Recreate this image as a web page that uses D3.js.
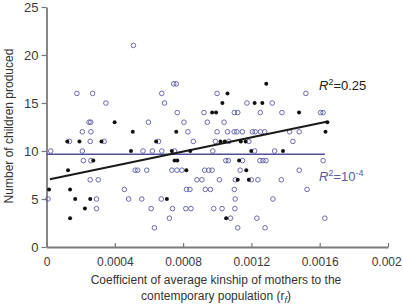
<!DOCTYPE html>
<html>
<head>
  <meta charset="UTF-8" />
  <script src="https://d3js.org/d3.v7.min.js"></script>
  <style>
    body { margin: 0; padding: 0; background: #fff; }
    svg { font-family: "Liberation Sans", Arial, sans-serif; }
  </style>
</head>
<body>
  <div id="chart"></div>
  <script>
    // values: [kinship coefficient, number of children]
    const openPoints = [
      [0.000509, 21],
      [0.000745, 17], [0.00076, 17],
      [0.000178, 16], [0.00027, 16], [0.000675, 16], [0.000999, 16], [0.001519, 16],
      [0.000348, 15], [0.000691, 15], [0.001174, 15], [0.001322, 15],
      [0.000766, 14], [0.000922, 14], [0.0011, 14], [0.00112, 14], [0.001252, 14], [0.001379, 14], [0.001605, 14], [0.00162, 14],
      [0.000249, 13], [0.000259, 13], [0.000597, 13], [0.000805, 13], [0.000942, 13], [0.00104, 13],
      [0.00021, 12], [0.00026, 12], [0.000828, 12], [0.000999, 12], [0.00106, 12], [0.001099, 12], [0.001115, 12], [0.001147, 12],
      [0.001206, 12], [0.001222, 12], [0.001253, 12], [0.001278, 12], [0.001424, 12], [0.00148, 12],
      [0.000134, 11], [0.000256, 11], [0.000338, 11], [0.000656, 11], [0.00086, 11], [0.000989, 11], [0.001068, 11], [0.001185, 11], [0.001443, 11],
      [0.000025, 10], [0.00021, 10], [0.000565, 10], [0.00062, 10], [0.000675, 10], [0.00075, 10], [0.000974, 10], [0.001219, 10], [0.001336, 10],
      [0.000216, 9], [0.00026, 9], [0.00105, 9], [0.001065, 9], [0.001148, 9], [0.00125, 9], [0.001268, 9], [0.001285, 9], [0.00162, 9],
      [0.000519, 8], [0.000534, 8], [0.000587, 8], [0.000734, 8], [0.000764, 8], [0.000793, 8], [0.000926, 8], [0.00095, 8], [0.00097, 8], [0.001134, 8], [0.00148, 8],
      [0.000256, 7], [0.000303, 7], [0.000881, 7], [0.00091, 7], [0.001013, 7], [0.001106, 7], [0.001199, 7], [0.001238, 7], [0.001375, 7],
      [0.000456, 6], [0.00082, 6], [0.00084, 6], [0.00093, 6], [0.00096, 6], [0.0011, 6], [0.001526, 6],
      [0.000009, 5], [0.000293, 5], [0.000481, 5], [0.000558, 5], [0.000672, 5], [0.001105, 5], [0.001326, 5],
      [0.000293, 4], [0.000613, 4], [0.000738, 4], [0.000816, 4], [0.000846, 4], [0.000979, 4], [0.001028, 4], [0.001103, 4],
      [0.00072, 3], [0.001078, 3], [0.001232, 3], [0.00163, 3],
      [0.000632, 2], [0.00112, 2], [0.00128, 2]
    ];

    const filledPoints = [
      [0.001287, 17],
      [0.00106, 16],
      [0.00103, 15], [0.001219, 15], [0.001264, 15],
      [0.00097, 14], [0.000993, 14], [0.001479, 14],
      [0.000399, 13], [0.001645, 13],
      [0.000505, 12], [0.00076, 12], [0.001634, 12],
      [0.000122, 11], [0.000193, 11], [0.000322, 11], [0.000642, 11], [0.001019, 11], [0.001044, 11], [0.001138, 11], [0.001166, 11],
      [0.000495, 10], [0.000734, 10], [0.000842, 10], [0.001199, 10], [0.001385, 10],
      [0.000274, 9], [0.00075, 9], [0.000766, 9], [0.001128, 9],
      [0.000126, 8], [0.000819, 8], [0.00117, 8],
      [0.00112, 7], [0.001185, 7],
      [0.000015, 6], [0.000138, 6],
      [0.000168, 5], [0.000256, 5], [0.000705, 5],
      [0.000225, 4],
      [0.000138, 3], [0.001052, 3]
    ];

    const fitAll = [[0.00002, 7.05], [0.00164, 13.05]];
    const fitOpen = [[0, 9.65], [0.00163, 9.65]];

    const xTicks = [0, 0.0004, 0.0008, 0.0012, 0.0016, 0.002];
    const xTickLabels = ["0", "0.0004", "0.0008", "0.0012", "0.0016", "0.002"];
    const yTicks = [0, 5, 10, 15, 20, 25];

    const width = 403, height = 306;
    const blue = "#5a5aa6";

    const svg = d3.select("#chart").append("svg")
      .attr("width", width)
      .attr("height", height);

    const x = d3.scaleLinear().domain([0, 0.002]).range([46.5, 388]);
    const y = d3.scaleLinear().domain([0, 25]).range([247, 7]);

    // axes
    const xAxis = svg.append("g")
      .attr("transform", `translate(0,${y(0)})`)
      .call(d3.axisBottom(x).tickValues(xTicks)
        .tickFormat((d, i) => xTickLabels[i])
        .tickSizeInner(-4).tickSizeOuter(0).tickPadding(10));
    const yAxis = svg.append("g")
      .attr("transform", `translate(${x(0)},0)`)
      .call(d3.axisLeft(y).tickValues(yTicks).tickSizeInner(5).tickSizeOuter(0).tickPadding(3));

    [xAxis, yAxis].forEach(g => {
      g.select(".domain").attr("stroke", "#7a7a7a").attr("stroke-width", 1.8);
      g.selectAll(".tick line").attr("stroke", "#7a7a7a").attr("stroke-width", 1.2);
      g.selectAll(".tick text").attr("fill", "#3a3a3a").style("font-size", "12px")
        .style("font-family", "'Liberation Sans', Arial, sans-serif");
    });
    yAxis.selectAll(".tick text").style("font-size", "13px");
    // keep last label inside the window
    xAxis.selectAll(".tick text").filter((d, i) => i === xTicks.length - 1)
      .attr("text-anchor", "end").attr("dx", "1.1em");

    // open circles
    svg.append("g").selectAll("circle")
      .data(openPoints)
      .enter().append("circle")
      .attr("cx", d => x(d[0]))
      .attr("cy", d => y(d[1]))
      .attr("r", 2.3)
      .attr("fill", "none")
      .attr("stroke", blue)
      .attr("stroke-width", 0.9);

    const line = d3.line().x(d => x(d[0])).y(d => y(d[1]));

    svg.append("path").datum(fitOpen)
      .attr("d", line).attr("stroke", "#50509a").attr("stroke-width", 1.5).attr("fill", "none");

    svg.append("path").datum(fitAll)
      .attr("d", line).attr("stroke", "#1a1a1a").attr("stroke-width", 2).attr("fill", "none");

    // filled dots
    svg.append("g").selectAll("circle")
      .data(filledPoints)
      .enter().append("circle")
      .attr("cx", d => x(d[0]))
      .attr("cy", d => y(d[1]))
      .attr("r", 2)
      .attr("fill", "#111");

    // R² labels
    const r1 = svg.append("text").attr("x", 319).attr("y", 90)
      .attr("fill", "#222").style("font-size", "13px");
    r1.append("tspan").attr("font-style", "italic").text("R");
    r1.append("tspan").attr("dy", -5).style("font-size", "9px").text("2");
    r1.append("tspan").attr("dy", 5).text("=0.25");

    const r2 = svg.append("text").attr("x", 319).attr("y", 181)
      .attr("fill", blue).style("font-size", "13px");
    r2.append("tspan").attr("font-style", "italic").text("R");
    r2.append("tspan").attr("dy", -5).style("font-size", "9px").text("2");
    r2.append("tspan").attr("dy", 5).text("=10");
    r2.append("tspan").attr("dy", -5).style("font-size", "9px").text("-4");

    // axis titles
    svg.append("text")
      .attr("transform", "translate(13,126) rotate(-90)")
      .attr("text-anchor", "middle")
      .attr("fill", "#333")
      .style("font-size", "12px")
      .text("Number of children produced");

    svg.append("text")
      .attr("x", 216).attr("y", 284)
      .attr("text-anchor", "middle")
      .attr("fill", "#333")
      .style("font-size", "12px")
      .text("Coefficient of average kinship of mothers to the");

    const t2 = svg.append("text")
      .attr("x", 216).attr("y", 300)
      .attr("text-anchor", "middle")
      .attr("fill", "#333")
      .style("font-size", "12px");
    t2.append("tspan").text("contemporary population (r");
    t2.append("tspan").attr("dy", 3).style("font-size", "9px").attr("font-style", "italic").text("f");
    t2.append("tspan").attr("dy", -3).text(")");
  </script>
</body>
</html>
